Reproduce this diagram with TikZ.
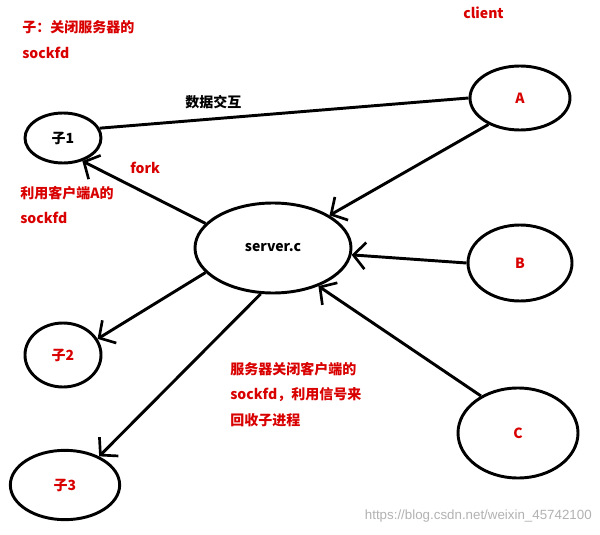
\documentclass[tikz,border=0pt]{standalone}
\usepackage{fontspec}
\setmainfont{Liberation Sans}
\newfontfamily\cjk{Noto Sans CJK SC}
\usetikzlibrary{arrows.meta,shapes.geometric}
\colorlet{lred}{red!85!black}
\tikzset{
 ell/.style={draw,ellipse,line width=2.2pt,inner sep=0pt,font=\cjk\bfseries\fontsize{10.5}{12}\selectfont},
 conn/.style={line width=2.2pt,-{Straight Barb[length=9pt,width=20pt,line width=2pt]}},
 lab/.style={text=lred,font=\cjk\bfseries\fontsize{10.5}{12}\selectfont,anchor=west,inner sep=0pt}
}
\begin{document}
\begin{tikzpicture}[x=0.75pt,y=-0.75pt]
\useasboundingbox (0,0) rectangle (600,535);
\fill[white] (0,0) rectangle (600,535);
\node[ell,minimum width=57pt,minimum height=37.5pt] (z1) at (63,138) {子1};
\node[ell,text=lred,minimum width=75pt,minimum height=48pt] (A) at (520,98) {A};
\node[ell,minimum width=117pt,minimum height=67.5pt] (S) at (273,248) {server.c};
\node[ell,text=lred,minimum width=78pt,minimum height=57pt] (B) at (520,263) {B};
\node[ell,text=lred,minimum width=57pt,minimum height=48pt] (z2) at (63,355) {子2};
\node[ell,text=lred,minimum width=90pt,minimum height=67.5pt] (C) at (518,433) {C};
\node[ell,text=lred,minimum width=82pt,minimum height=52pt] (z3) at (65,485) {子3};
\draw[line width=2.2pt] (z1.15) -- (A.west);
\node[text=black,font=\cjk\bfseries\fontsize{10.5}{12}\selectfont,inner sep=0pt,anchor=west] (dj) at (185,102) {数据交互};
\draw[conn] (A.220) -- (S.30);
\draw[conn] (S.160) -- (z1.-50);
\draw[conn] (B.west) -- (S.-5);
\draw[conn] (C.135) -- (S.-40);
\draw[conn] (S.200) -- (z2.25);
\draw[conn] (S.-105) -- (z3.40);
\node[lab] (t1) at (22,27) {子：关闭服务器的};
\node[lab] (t2) at (22,53) {sockfd};
\node[lab] (t3) at (463,13) {client};
\node[lab] (t4) at (130,168) {fork};
\node[lab] (t5) at (20,193) {利用客户端A的};
\node[lab] (t6) at (20,218) {sockfd};
\node[lab] (t7) at (230,369) {服务器关闭客户端的};
\node[lab] (t8) at (230,395) {sockfd，利用信号来};
\node[lab] (t9) at (230,420) {回收子进程};
\node[anchor=east,text=gray!60,font=\fontsize{10}{12}\selectfont,inner sep=0pt] (wm) at (592,516) {https://blog.csdn.net/weixin\_45742100};
\end{tikzpicture}
\end{document}
